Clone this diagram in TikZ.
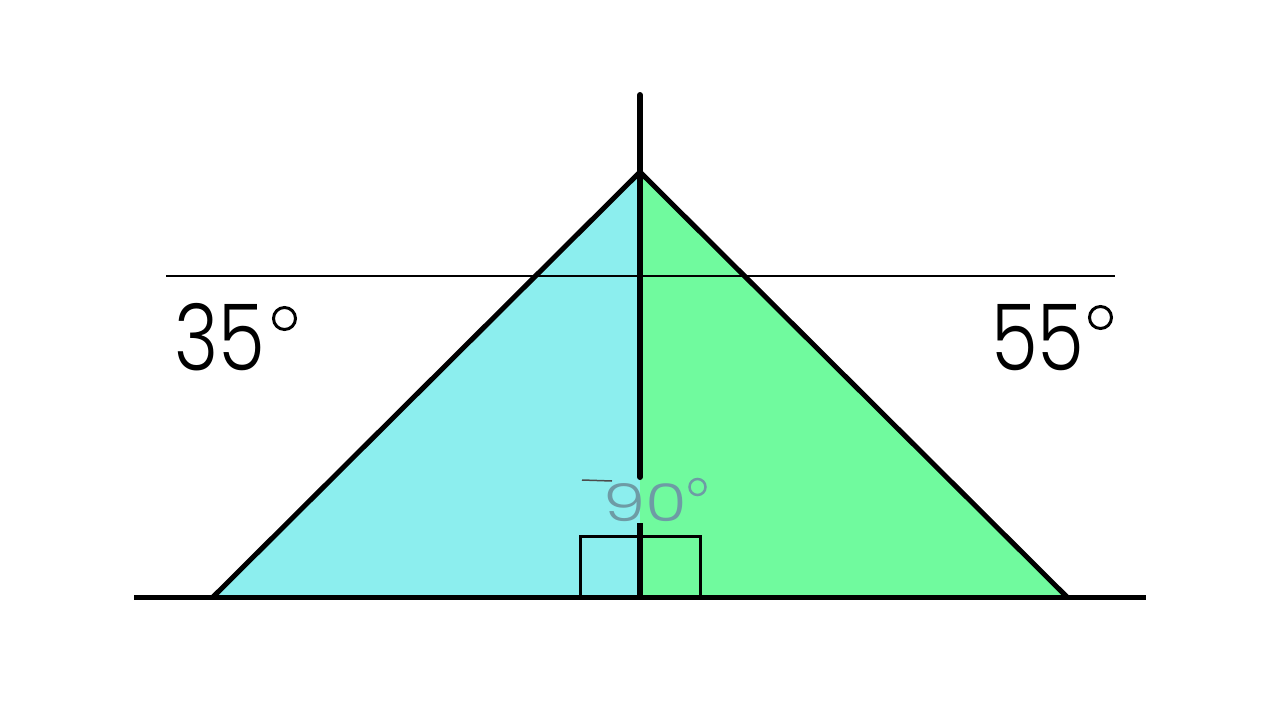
\documentclass[tikz,border=0pt]{standalone}
\usepackage{fontspec}
\newfontfamily\pop{Poppins Light}
\definecolor{leftfill}{RGB}{140,238,238}
\definecolor{rightfill}{RGB}{112,250,158}
\definecolor{ninety}{RGB}{110,155,165}
\tikzset{
  side/.style={line width=5pt, line join=round, line cap=round},
  thin/.style={line width=2pt},
  sq/.style={line width=3pt},
  big/.style={font=\pop\fontsize{92}{92}\selectfont, inner sep=0pt, anchor=base west, xscale=0.82},
  ring/.style={line width=3pt},
}
\begin{document}
\begin{tikzpicture}[x=1pt,y=-1pt]
\useasboundingbox (0,0) rectangle (1280,720);
\fill[white] (0,0) rectangle (1280,720);
\coordinate (A) at (640,172);
\coordinate (L) at (213,597);
\coordinate (R) at (1067,597);
\coordinate (F) at (640,597);
\coordinate (T) at (640,95);
\fill[leftfill] (A) -- (L) -- (F) -- cycle;
\fill[rightfill] (A) -- (F) -- (R) -- cycle;
\coordinate (H1) at (166,276);
\coordinate (H2) at (1115,276);
\draw[thin] (H1) -- (H2);
\draw[sq] (580,597) rectangle (700,536);
\coordinate (G1) at (640,477);
\coordinate (G2) at (640,523);
\draw[line width=6pt, line cap=round] (T) -- (G1);
\draw[line width=6pt] (G2) -- (F);
\draw[side] (L) -- (A) -- (R);
\coordinate (B1) at (134,597);
\coordinate (B2) at (1146,597);
\draw[side, line cap=butt] (B1) -- (B2);
\node[big] (a35) at (174,370) {35};
\draw[ring] (284.5,318.5) circle[radius=11];
\node[big] (a55) at (991,370) {55};
\draw[ring] (1100.5,317.5) circle[radius=11];
\node[font=\pop\fontsize{52}{52}\selectfont, text=ninety, inner sep=0pt, anchor=base west, xscale=1.3] (a90) at (603,521) {90};
\draw[ring, draw=ninety, line width=2.5pt] (697.5,487) circle[radius=8];
\draw[line width=1.5pt, black!70] (582,480) -- (612,481);
\end{tikzpicture}
\end{document}
